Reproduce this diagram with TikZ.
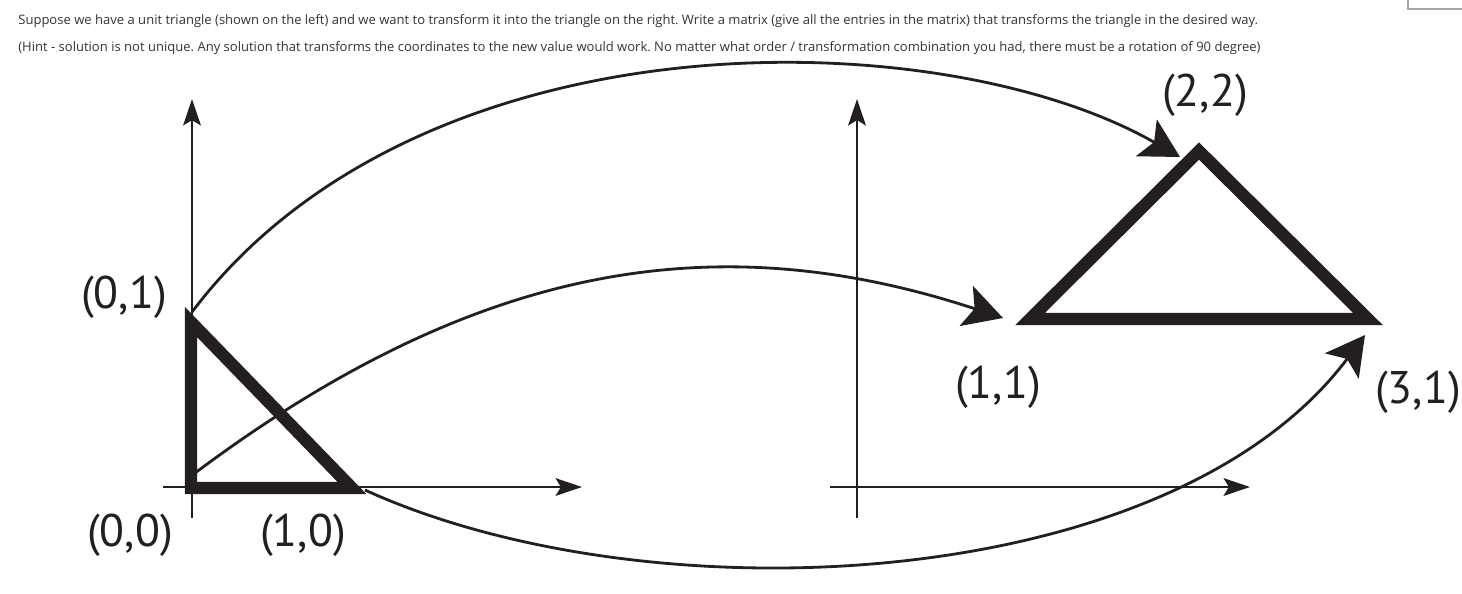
\documentclass[tikz,border=0pt]{standalone}
\usepackage{fontspec}
\setmainfont{Open Sans}
\newfontfamily\labelfont{PT Sans}
\usepackage{xcolor}
\usetikzlibrary{arrows.meta}
\definecolor{ink}{HTML}{231F20}
\definecolor{txt}{HTML}{333333}
\frenchspacing

\begin{document}
\begin{tikzpicture}[x=0.02cm,y=-0.02cm,
	axis/.style={ink,line width=1.6pt,-{Stealth[length=15pt,width=10pt,inset=3pt]}},
	tri/.style={ink,line width=7pt,miter limit=10},
	map/.style={ink,line width=1.6pt,-{Stealth[length=22pt,width=24pt,inset=5pt]}},
	lbl/.style={ink,font=\labelfont\fontsize{26}{26}\selectfont,inner sep=0pt},
	question/.style={txt,font=\fontsize{7.42}{8}\selectfont,inner sep=0pt,anchor=base west}]
	\useasboundingbox (0,0) rectangle (1462,593);
	
	\node[question](q1) at (18,24) {Suppose we have a unit triangle (shown on the left) and we want to transform it into the triangle on the right. Write a matrix (give all the entries in the matrix) that transforms the triangle in the desired way.};
	\node[question](q2) at (18,51) {(Hint - solution is not unique. Any solution that transforms the coordinates to the new value would work. No matter what order / transformation combination you had, there must be a rotation of 90 degree)};
	\draw[gray!70,line width=0.6pt] (1408,0) |- (1462,9);
	
	%left axes
	\coordinate (lx0) at (163,487);
	\coordinate (lx1) at (582,487);
	\coordinate (ly0) at (192,518);
	\coordinate (ly1) at (192,99);
	\draw[axis] (lx0) -- (lx1);
	\draw[axis] (ly0) -- (ly1);
	
	%right axes
	\coordinate (rx0) at (830,487);
	\coordinate (rx1) at (1250,487);
	\coordinate (ry0) at (857,518);
	\coordinate (ry1) at (857,99);
	\draw[axis] (rx0) -- (rx1);
	\draw[axis] (ry0) -- (ry1);
	
	%unit triangle
	\coordinate (a) at (191,488);
	\coordinate (b) at (352,488);
	\coordinate (c) at (191,322);
	\draw[tri] (a) -- (b) -- (c) -- cycle;
	
	%new triangle
	\coordinate (d) at (1030,319);
	\coordinate (e) at (1368,319);
	\coordinate (f) at (1199,151);
	\draw[tri] (d) -- (e) -- (f) -- cycle;
	
	\node[lbl](A) at (130,535) {(0,0)};
	\node[lbl](B) at (303,535) {(1,0)};
	\node[lbl](C) at (124,297) {(0,1)};
	\node[lbl](D) at (998,387) {(1,1)};
	\node[lbl](E) at (1418,392) {(3,1)};
	\node[lbl](F) at (1205,95) {(2,2)};
	
	%where the corners go
	\coordinate (a1) at (195,473);
	\coordinate (d1) at (1003,318);
	\coordinate (b1) at (365,490);
	\coordinate (e1) at (1365,335);
	\coordinate (c1) at (192,312);
	\coordinate (f1) at (1180,157);
	\draw[map] (a1) .. controls (480,260) and (720,225) .. (d1);
	\draw[map] (b1) .. controls (650,620) and (1170,595) .. (e1);
	\draw[map] (c1) .. controls (420,10) and (940,20) .. (f1);
	
\end{tikzpicture}
\end{document}
